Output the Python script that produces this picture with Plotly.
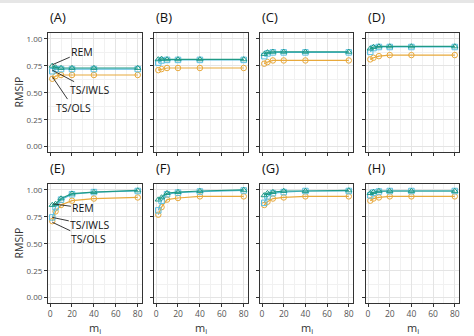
import plotly.graph_objects as go

W, H = 474, 336
m_i = [2, 5, 10, 20, 40, 80]
panels = ["(A)", "(B)", "(C)", "(D)", "(E)", "(F)", "(G)", "(H)"]

rem = [
    [0.75, 0.735, 0.73, 0.73, 0.73, 0.73],
    [0.81, 0.815, 0.81, 0.81, 0.81, 0.81],
    [0.86, 0.875, 0.88, 0.88, 0.88, 0.88],
    [0.91, 0.925, 0.93, 0.93, 0.93, 0.93],
    [0.86, 0.87, 0.92, 0.965, 0.98, 0.995],
    [0.91, 0.93, 0.97, 0.98, 0.99, 1.00],
    [0.95, 0.97, 0.98, 0.99, 0.99, 0.995],
    [0.97, 0.98, 0.99, 0.99, 0.99, 0.99],
]
iwls = [
    [0.70, 0.72, 0.72, 0.72, 0.72, 0.72],
    [0.78, 0.80, 0.805, 0.805, 0.805, 0.805],
    [0.84, 0.865, 0.875, 0.875, 0.875, 0.875],
    [0.88, 0.915, 0.925, 0.925, 0.925, 0.925],
    [0.745, 0.84, 0.91, 0.96, 0.98, 0.99],
    [0.81, 0.90, 0.96, 0.975, 0.985, 0.995],
    [0.88, 0.94, 0.97, 0.98, 0.99, 0.99],
    [0.95, 0.975, 0.985, 0.99, 0.99, 0.99],
]
ols = [
    [0.63, 0.655, 0.665, 0.665, 0.665, 0.665],
    [0.71, 0.72, 0.73, 0.73, 0.73, 0.73],
    [0.77, 0.785, 0.80, 0.80, 0.80, 0.80],
    [0.81, 0.825, 0.84, 0.85, 0.85, 0.85],
    [0.71, 0.80, 0.86, 0.90, 0.92, 0.93],
    [0.77, 0.84, 0.91, 0.925, 0.94, 0.94],
    [0.86, 0.89, 0.92, 0.93, 0.94, 0.94],
    [0.90, 0.92, 0.93, 0.94, 0.94, 0.94],
]
y_ticks = [0, 0.25, 0.5, 0.75, 1.0]
y_ticklabels = ["0.00", "0.25", "0.50", "0.75", "1.00"]
x_ticks = [0, 20, 40, 60, 80]

C_REM = "#1f9a86"
C_IWLS = "#5cbfe0"
C_OLS = "#e8a93c"

col_px = [(48, 142), (154, 248), (260, 353), (366, 459)]
row_px = [(33, 152), (184, 303)]
FONT = "Open Sans"

fig = go.Figure()
layout = {}
annotations = []
for i in range(8):
    r, c = divmod(i, 4)
    n = i + 1
    xa = "x" if n == 1 else f"x{n}"
    ya = "y" if n == 1 else f"y{n}"
    for vals, col, sym in [(ols, C_OLS, "circle-open"),
                           (iwls, C_IWLS, "square-open"),
                           (rem, C_REM, "triangle-up-open")]:
        fig.add_trace(go.Scatter(
            x=m_i, y=vals[i], mode="lines+markers", xaxis=xa, yaxis=ya,
            line=dict(color=col, width=1.2),
            marker=dict(symbol=sym, size=5.5, color=col, line=dict(width=1, color=col)),
            showlegend=False, hoverinfo="skip"))
    x0, x1 = col_px[c]
    y0, y1 = row_px[r]
    axis_common = dict(showline=True, linecolor="#333333", linewidth=1.2, mirror=True,
                       ticks="outside", ticklen=3, tickcolor="#333333", tickwidth=1,
                       showgrid=True, gridcolor="#e4e4e4", gridwidth=0.8, zeroline=False,
                       tickfont=dict(family=FONT, size=8, color="#555555"))
    layout["xaxis" if n == 1 else f"xaxis{n}"] = dict(
        axis_common, domain=[x0 / W, x1 / W], anchor=ya, range=[-1.9, 83.9],
        tickvals=x_ticks, showticklabels=(r == 1),
        tickfont=dict(family=FONT, size=8.5, color="#555555"),
        minor=dict(dtick=10, tick0=0, showgrid=True, gridcolor="#f1f1f1", gridwidth=0.6))
    layout["yaxis" if n == 1 else f"yaxis{n}"] = dict(
        axis_common, domain=[1 - y1 / H, 1 - y0 / H], anchor=xa, range=[-0.05, 1.055],
        tickvals=y_ticks, ticktext=y_ticklabels, showticklabels=(c == 0),
        minor=dict(dtick=0.125, tick0=0, showgrid=True, gridcolor="#f1f1f1", gridwidth=0.6))
    annotations.append(dict(
        text=panels[i], xref="paper", yref="paper", x=x0 / W, y=1 - (y0 - 5) / H,
        xanchor="left", yanchor="bottom", showarrow=False,
        font=dict(family=FONT, size=13, color="#111111")))
    if r == 1:
        annotations.append(dict(
            text="m<sub>i</sub>", xref="paper", yref="paper", x=(x0 + x1) / 2 / W, y=1 - 317.5 / H,
            xanchor="center", yanchor="top", showarrow=False,
            font=dict(family=FONT, size=11, color="#333333")))
    if c == 0:
        annotations.append(dict(
            text="RMSIP", xref="paper", yref="paper", x=18 / W, y=1 - (y0 + y1) / 2 / H,
            xanchor="center", yanchor="middle", showarrow=False, textangle=-90,
            font=dict(family=FONT, size=10.5, color="#333333")))

# labels with leader lines
lab_font = dict(family=FONT, size=10.5, color="#111111")
for xa, ya, pts in [
    ("x", "y", [("REM", 2, 0.76, 30, -13), ("TS/IWLS", 2, 0.71, 38, 20), ("TS/OLS", 2, 0.65, 21, 31)]),
    ("x5", "y5", [("REM", 3, 0.87, 30, 4), ("TS/IWLS", 2, 0.745, 38, 8), ("TS/OLS", 2, 0.70, 36, 17)]),
]:
    for txt, px, py, ax, ay in pts:
        annotations.append(dict(
            text=txt, xref=xa, yref=ya, x=px, y=py, ax=ax, ay=ay, axref="pixel", ayref="pixel",
            showarrow=True, arrowhead=0, arrowwidth=0.9, arrowcolor="#222222",
            font=lab_font, standoff=0))

shapes = [dict(type="rect", xref="paper", yref="paper", x0=0, x1=1, y0=1 - 3 / H, y1=1,
               fillcolor="#e6e6e6", line=dict(width=0), layer="above")]

fig.update_layout(
    width=W, height=H, margin=dict(l=0, r=0, t=0, b=0),
    paper_bgcolor="white", plot_bgcolor="white",
    annotations=annotations, shapes=shapes, **layout)

fig.write_html("out.html")
